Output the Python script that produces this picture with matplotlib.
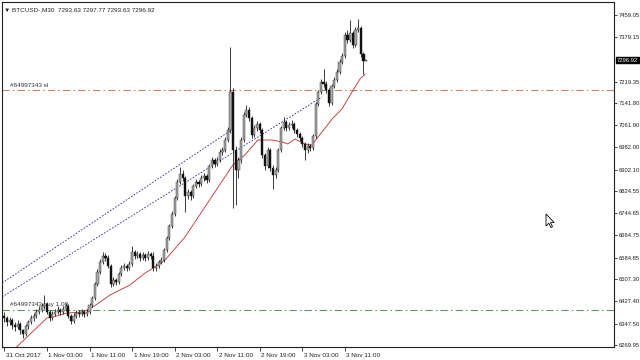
import numpy as np
import matplotlib.pyplot as plt
import matplotlib.transforms as mtransforms
from matplotlib.patches import Polygon

# BTCUSD M30 candles (bar 0 = 31 Oct 2017 19:00)
closes = [6367.4, 6353.0, 6360.2, 6342.1, 6334.9, 6345.7, 6324.1, 6309.7, 6338.5, 6353.0,
          6367.4, 6374.6, 6389.0, 6396.2, 6410.6, 6417.8, 6389.0, 6367.4, 6381.8, 6389.0,
          6396.2, 6389.0, 6399.8, 6410.6, 6374.6, 6356.6, 6374.6, 6385.4, 6381.8, 6389.0,
          6381.8, 6389.0, 6414.2, 6439.4, 6489.9, 6533.1, 6569.1, 6590.7, 6583.5, 6554.7,
          6489.9, 6504.3, 6497.1, 6525.9, 6547.5, 6554.7, 6547.5, 6561.9, 6605.1, 6590.7,
          6597.9, 6583.5, 6594.3, 6583.5, 6597.9, 6590.7, 6547.5, 6554.7, 6569.1, 6576.3,
          6612.4, 6655.6, 6698.8, 6742.1, 6799.7, 6857.4, 6886.2, 6871.8, 6806.9, 6821.3,
          6806.9, 6843.0, 6857.4, 6850.2, 6871.8, 6879.0, 6864.6, 6915.0, 6936.6, 6922.2,
          6936.6, 6965.6, 6972.7, 7008.7, 7044.7, 7181.6, 6972.7, 6900.6, 6936.6, 7008.7,
          7098.7, 7116.8, 7087.9, 7026.7, 7051.9, 7066.3, 7044.7, 6954.8, 6915.0, 6972.7,
          6907.8, 6882.6, 6900.6, 6972.7, 7051.9, 7073.5, 7051.9, 7062.7, 7066.3, 7044.7,
          7030.3, 7015.9, 6994.3, 6972.7, 6987.1, 6979.9, 7023.1, 7138.4, 7181.6, 7217.7,
          7210.5, 7188.8, 7142.0, 7203.2, 7224.9, 7253.7, 7289.7, 7311.3, 7387.0, 7369.0,
          7394.2, 7350.8, 7405.0, 7412.2, 7318.5, 7293.63, 7296.92]

highs = [6389.0, 6374.6, 6371.0, 6367.4, 6353.0, 6360.2, 6353.0, 6327.7, 6345.7, 6360.2,
         6378.2, 6385.4, 6399.8, 6410.6, 6421.4, 6450.2, 6425.0, 6396.2, 6392.6, 6399.8,
         6410.6, 6403.4, 6410.6, 6421.4, 6417.8, 6381.8, 6385.4, 6396.2, 6396.2, 6399.8,
         6396.2, 6399.8, 6421.4, 6446.6, 6497.1, 6543.9, 6579.9, 6605.1, 6601.5, 6594.3,
         6561.9, 6515.1, 6511.5, 6533.1, 6558.3, 6565.5, 6561.9, 6572.7, 6626.8, 6612.4,
         6608.8, 6605.1, 6605.1, 6601.5, 6608.8, 6605.1, 6605.1, 6565.5, 6576.3, 6587.1,
         6619.6, 6662.8, 6706.0, 6752.9, 6806.9, 6868.2, 6911.4, 6900.6, 6879.0, 6832.1,
         6828.5, 6850.2, 6868.2, 6864.6, 6882.6, 6889.8, 6886.2, 6922.2, 6947.4, 6943.8,
         6947.4, 6976.3, 6983.5, 7019.5, 7055.5, 7343.8, 7196.0, 6987.1, 6947.4, 7019.5,
         7109.6, 7134.8, 7127.6, 7095.1, 7062.7, 7077.1, 7073.5, 7051.9, 6962.0, 6983.5,
         6979.9, 6918.6, 6911.4, 6979.9, 7059.1, 7091.5, 7080.7, 7073.5, 7080.7, 7073.5,
         7051.9, 7037.5, 7023.1, 7001.5, 6997.9, 6994.3, 7030.3, 7145.6, 7188.8, 7228.5,
         7264.5, 7221.3, 7196.0, 7210.5, 7235.7, 7264.5, 7300.5, 7322.1, 7397.8, 7405.0,
         7441.0, 7401.4, 7415.8, 7444.6, 7419.4, 7325.8, 7297.77]

lows = [6353.0, 6338.5, 6342.1, 6327.7, 6320.5, 6327.7, 6309.7, 6295.3, 6302.5, 6327.7,
        6345.7, 6356.6, 6367.4, 6381.8, 6389.0, 6399.8, 6381.8, 6356.6, 6360.2, 6374.6,
        6381.8, 6378.2, 6381.8, 6392.6, 6367.4, 6345.7, 6349.4, 6367.4, 6371.0, 6374.6,
        6371.0, 6374.6, 6381.8, 6407.0, 6432.2, 6482.7, 6525.9, 6561.9, 6572.7, 6547.5,
        6479.1, 6482.7, 6486.3, 6489.9, 6518.7, 6540.3, 6536.7, 6540.3, 6554.7, 6579.9,
        6583.5, 6572.7, 6576.3, 6572.7, 6576.3, 6579.9, 6536.7, 6536.7, 6547.5, 6561.9,
        6569.1, 6605.1, 6648.4, 6691.6, 6734.9, 6792.5, 6850.2, 6861.0, 6749.3, 6796.1,
        6792.5, 6799.7, 6835.7, 6839.4, 6843.0, 6861.0, 6853.8, 6857.4, 6907.8, 6911.4,
        6915.0, 6929.4, 6954.8, 6965.6, 7001.5, 7033.9, 6763.7, 6774.5, 6871.8, 6925.8,
        7001.5, 7091.5, 7077.1, 7015.9, 7019.5, 7041.1, 7033.9, 6943.8, 6900.6, 6907.8,
        6897.0, 6832.1, 6871.8, 6893.4, 6965.6, 7044.7, 7041.1, 7044.7, 7051.9, 7033.9,
        7019.5, 7005.1, 6983.5, 6936.6, 6962.0, 6969.2, 6972.7, 7015.9, 7131.2, 7174.4,
        7199.6, 7178.0, 7131.2, 7134.8, 7196.0, 7217.7, 7246.5, 7282.5, 7304.1, 7358.2,
        7361.8, 7340.2, 7343.8, 7397.8, 7307.7, 7246.5, 7293.63]

first_open = 6374.6
opens = [first_open] + closes[:-1]

# moving average
ma_idx = [3, 16, 18.3, 23.5, 29.5, 33.3, 39.7, 47.2, 52.9, 56.6, 60.4, 67.9, 75.4, 82.9,
          85.9, 90.4, 95.3, 100.6, 104.4, 106.6, 109.2, 113, 115.6, 119.4, 123.2, 126.9,
          130.7, 133.7, 135.6]
ma_val = [6248.5, 6367.4, 6371.0, 6385.4, 6389.0, 6407.0, 6450.2, 6486.3, 6529.5, 6551.1,
          6576.3, 6659.2, 6767.3, 6875.4, 6918.6, 6954.8, 7008.7, 7008.7, 7001.5, 6994.3,
          7012.3, 6994.3, 6990.7, 7037.5, 7084.3, 7120.4, 7181.6, 7228.5, 7246.5]

# trend lines (bar index, price)
trend_upper = [(-0.9, 6493.4), (84.8, 7041.1)]
trend_lower = [(-0.9, 6443.0), (119.4, 7163.6)]

sl_price = 7189.5
buy_price = 6398.0

time_ticks = [0, 16, 32, 48, 64, 80, 96, 112, 128]
time_labels = ["31 Oct 2017", "1 Nov 03:00", "1 Nov 11:00", "1 Nov 19:00", "2 Nov 03:00",
               "2 Nov 11:00", "2 Nov 19:00", "3 Nov 03:00", "3 Nov 11:00"]
price_ticks = [7459.05, 7379.15, 7219.35, 7141.80, 7061.90, 6982.00, 6902.10, 6824.55,
               6744.65, 6664.75, 6584.85, 6507.30, 6427.40, 6347.50, 6269.95]

assert len(closes) == len(highs) == len(lows) == 137

plt.rcParams['font.family'] = ['Liberation Sans', 'DejaVu Sans']
fs = 4.6

fig = plt.figure(figsize=(6.4, 3.6), dpi=100)
ax = fig.add_axes([2 / 640, 13 / 360, 612 / 640, 345 / 360])

idx = np.arange(len(closes))
o = np.array(opens)
c = np.array(closes)
up = c >= o

ax.vlines(idx, lows, highs, color='#1a1a1a', lw=0.6, zorder=3)
ax.bar(idx[up], (c - o)[up], bottom=o[up], width=0.8, color='#a8a8a8',
       edgecolor='#2a2a2a', linewidth=0.3, zorder=4)
ax.bar(idx[~up], (o - c)[~up], bottom=c[~up], width=0.8, color='#111111',
       edgecolor='#111111', linewidth=0.3, zorder=4)

ax.plot(ma_idx, ma_val, color='#c83c3c', lw=0.65, zorder=2)

for line in (trend_upper, trend_lower):
    xs, ys = zip(*line)
    ax.plot(xs, ys, color='#2a2a9a', lw=0.6, dashes=(2, 1.8), zorder=2)

ax.axhline(sl_price, color='#d08060', lw=0.75, dashes=(7, 3, 1.5, 3), zorder=1)
ax.axhline(buy_price, color='#5a955a', lw=0.75, dashes=(7, 3, 1.5, 3), zorder=1)
ax.text(2.0, sl_price + 8, "#64997343 sl", fontsize=fs, color='#333333', va='bottom')
ax.text(2.0, buy_price + 8, "#64997343 buy 1.00", fontsize=fs, color='#333333', va='bottom')

ax.text(0.004, 0.985, "\u25bc BTCUSD-,M30  7293.63 7297.77 7293.63 7296.92",
        transform=ax.transAxes, fontsize=fs, va='top', ha='left', color='#222222')

ax.set_xlim(-0.9, 229.2)
ax.set_ylim(6262.9, 7505.9)

ax.set_xticks(time_ticks)
ax.set_xticklabels(time_labels, fontsize=fs, ha='left')
ax.tick_params(axis='x', length=3, width=0.6, pad=1, colors='#222222')
ax.yaxis.tick_right()
ax.set_yticks(price_ticks)
ax.set_yticklabels([f"{p:.2f}" for p in price_ticks], fontsize=4.2)
ax.tick_params(axis='y', length=2.5, width=0.6, pad=1, colors='#222222')
offset = mtransforms.ScaledTranslation(1.5 / 100, 0, fig.dpi_scale_trans)
for lab in ax.get_xticklabels():
    lab.set_transform(lab.get_transform() + offset)

for s in ax.spines.values():
    s.set_linewidth(0.8)
    s.set_color('#222222')

trans = mtransforms.blended_transform_factory(ax.transAxes, ax.transData)
ax.text(1.005, closes[-1], f"{closes[-1]:.2f}", transform=trans, fontsize=4.2,
        color='white', va='center', ha='left',
        bbox=dict(boxstyle='square,pad=0.15', fc='black', ec='black'))

# mouse pointer left in the screenshot
tip = (546, 214)
shape = [(0, 0), (0, 12), (2.8, 9.2), (4.8, 13.5), (6.5, 12.8), (4.5, 8.6), (8.2, 8.6)]
pts = [((tip[0] + dx) / 640, 1 - (tip[1] + dy) / 360) for dx, dy in shape]
fig.patches.append(Polygon(pts, closed=True, fc='white', ec='black', lw=0.6,
                           transform=fig.transFigure))

fig.savefig("out.png", dpi=100)
